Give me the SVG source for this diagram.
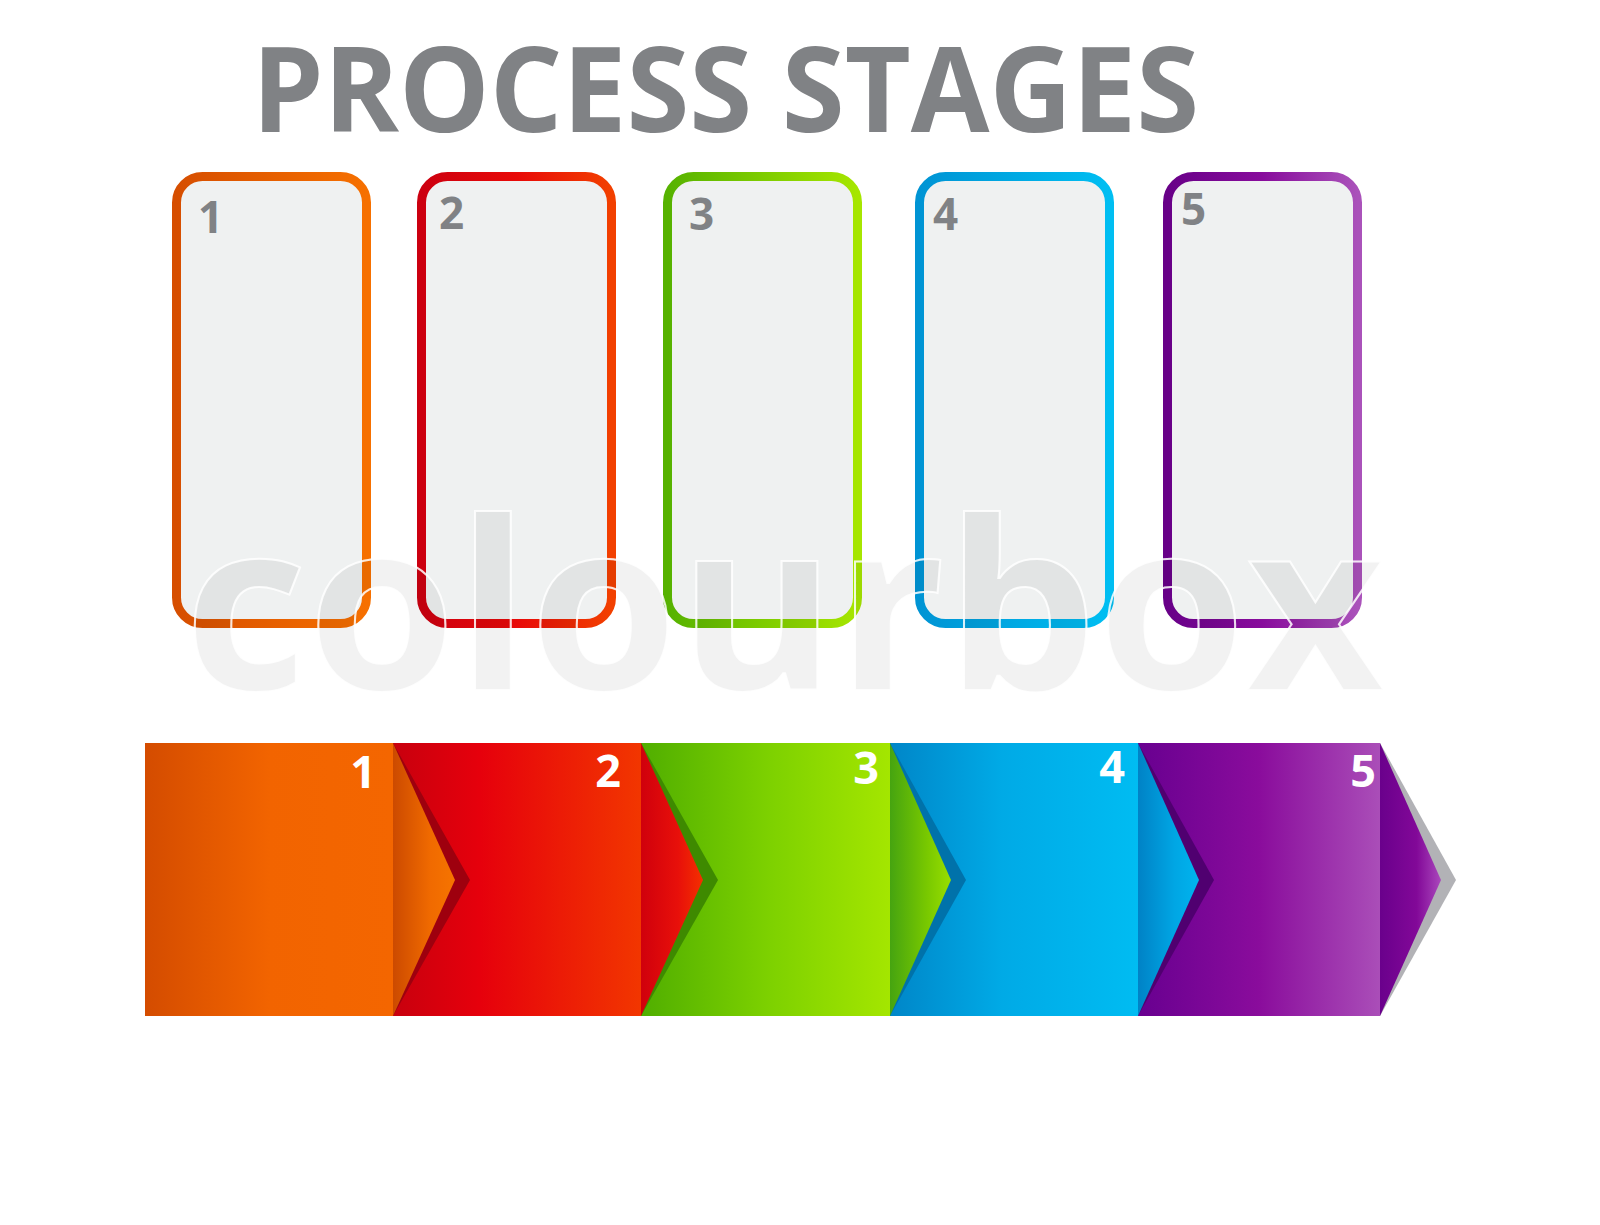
<svg xmlns="http://www.w3.org/2000/svg" width="1600" height="1225" viewBox="0 0 1600 1225">
<defs>
<style>
.title{font-family:"Open Sans","Liberation Sans",sans-serif;font-weight:700;fill:#808285}
.bnum{font-family:"Open Sans","Liberation Sans",sans-serif;font-weight:700;font-size:44px;fill:#808285}
.anum{font-family:"Open Sans","Liberation Sans",sans-serif;font-weight:700;font-size:45px;fill:#ffffff;text-anchor:end}
.box{fill:#eff1f1;stroke-width:9}
.wm{font-family:"Open Sans","Liberation Sans",sans-serif;font-weight:700;font-size:236px;fill:#000;fill-opacity:0.05;stroke:#fff;stroke-width:2;stroke-opacity:0.85}
</style>
<linearGradient id="bs1" x1="0" x2="1" y1="0" y2="0"><stop offset="0" stop-color="#d64e00"/><stop offset="1" stop-color="#f67000"/></linearGradient>
<linearGradient id="bs2" x1="0" x2="1" y1="0" y2="0"><stop offset="0" stop-color="#cc0010"/><stop offset="0.5" stop-color="#e80a08"/><stop offset="1" stop-color="#f24000"/></linearGradient>
<linearGradient id="bs3" x1="0" x2="1" y1="0" y2="0"><stop offset="0" stop-color="#56b200"/><stop offset="1" stop-color="#a6e600"/></linearGradient>
<linearGradient id="bs4" x1="0" x2="1" y1="0" y2="0"><stop offset="0" stop-color="#0094d4"/><stop offset="1" stop-color="#00bef2"/></linearGradient>
<linearGradient id="bs5" x1="0" x2="1" y1="0" y2="0"><stop offset="0" stop-color="#680088"/><stop offset="0.5" stop-color="#880c9c"/><stop offset="1" stop-color="#aa52ba"/></linearGradient>

<linearGradient id="sg1" x1="0" x2="1" y1="0" y2="0"><stop offset="0" stop-color="#d44c00"/><stop offset="0.5" stop-color="#f26400"/><stop offset="1" stop-color="#f46600"/></linearGradient>
<linearGradient id="sg2" x1="0" x2="1" y1="0" y2="0"><stop offset="0" stop-color="#c8000e"/><stop offset="0.35" stop-color="#e6000c"/><stop offset="1" stop-color="#f23600"/></linearGradient>
<linearGradient id="sg3" x1="0" x2="1" y1="0" y2="0"><stop offset="0" stop-color="#50ae00"/><stop offset="0.5" stop-color="#7cd000"/><stop offset="1" stop-color="#a4e600"/></linearGradient>
<linearGradient id="sg4" x1="0" x2="1" y1="0" y2="0"><stop offset="0" stop-color="#0086c8"/><stop offset="0.45" stop-color="#00aae6"/><stop offset="1" stop-color="#00bcf2"/></linearGradient>
<linearGradient id="sg5" x1="0" x2="1" y1="0" y2="0"><stop offset="0" stop-color="#680090"/><stop offset="0.5" stop-color="#8a0c9c"/><stop offset="1" stop-color="#aa4eb8"/></linearGradient>

<linearGradient id="cg1" x1="0" x2="1" y1="0" y2="0"><stop offset="0" stop-color="#cc4a00"/><stop offset="0.6" stop-color="#f06a00"/><stop offset="1" stop-color="#f67400"/></linearGradient>
<linearGradient id="cg2" x1="0" x2="1" y1="0" y2="0"><stop offset="0" stop-color="#d0000c"/><stop offset="0.6" stop-color="#e8100a"/><stop offset="1" stop-color="#f43000"/></linearGradient>
<linearGradient id="cg3" x1="0" x2="1" y1="0" y2="0"><stop offset="0" stop-color="#46a410"/><stop offset="0.6" stop-color="#78c800"/><stop offset="1" stop-color="#98de00"/></linearGradient>
<linearGradient id="cg4" x1="0" x2="1" y1="0" y2="0"><stop offset="0" stop-color="#0082c6"/><stop offset="0.6" stop-color="#00a6e4"/><stop offset="1" stop-color="#00b4ee"/></linearGradient>
<linearGradient id="cg5" x1="0" x2="1" y1="0" y2="0"><stop offset="0" stop-color="#6a008c"/><stop offset="0.6" stop-color="#820898"/><stop offset="1" stop-color="#aa48bc"/></linearGradient>
</defs>

<rect x="0" y="0" width="1600" height="1225" fill="#ffffff"/>

<g id="title">
<text class="title" x="252" y="132" font-size="119" textLength="947" lengthAdjust="spacingAndGlyphs">PROCESS STAGES</text>
</g>

<g id="stage-box-1">
<rect class="box" x="176.5" y="176.5" width="190" height="447" rx="26" stroke="url(#bs1)"/>
<text class="bnum" x="198" y="233">1</text>
</g>
<g id="stage-box-2">
<rect class="box" x="421.5" y="176.5" width="190" height="447" rx="26" stroke="url(#bs2)"/>
<text class="bnum" x="439" y="229">2</text>
</g>
<g id="stage-box-3">
<rect class="box" x="667.5" y="176.5" width="190" height="447" rx="26" stroke="url(#bs3)"/>
<text class="bnum" x="689" y="230">3</text>
</g>
<g id="stage-box-4">
<rect class="box" x="919.5" y="176.5" width="190" height="447" rx="26" stroke="url(#bs4)"/>
<text class="bnum" x="933" y="230">4</text>
</g>
<g id="stage-box-5">
<rect class="box" x="1167.5" y="176.5" width="190" height="447" rx="26" stroke="url(#bs5)"/>
<text class="bnum" x="1181" y="225">5</text>
</g>

<g id="stage-arrow-5">
<rect x="1138" y="743" width="242" height="273" fill="url(#sg5)"/>
<polygon points="1380,743 1456,880 1380,1016" fill="#b2b2b6"/>
<polygon points="1380,743 1441,880 1380,1016" fill="url(#cg5)"/>
<text class="anum" x="1376" y="787">5</text>
</g>
<g id="stage-arrow-4">
<rect x="890" y="743" width="248" height="273" fill="url(#sg4)"/>
<polygon points="1138,743 1214,880 1138,1016" fill="#500070"/>
<polygon points="1138,743 1199,880 1138,1016" fill="url(#cg4)"/>
<text class="anum" x="1125" y="783">4</text>
</g>
<g id="stage-arrow-3">
<rect x="641" y="743" width="249" height="273" fill="url(#sg3)"/>
<polygon points="890,743 966,880 890,1016" fill="#0072aa"/>
<polygon points="890,743 951,880 890,1016" fill="url(#cg3)"/>
<text class="anum" x="879" y="784">3</text>
</g>
<g id="stage-arrow-2">
<rect x="393" y="743" width="248" height="273" fill="url(#sg2)"/>
<polygon points="641,743 718,880 641,1016" fill="#3e8a00"/>
<polygon points="641,743 703,880 641,1016" fill="url(#cg2)"/>
<text class="anum" x="621" y="787">2</text>
</g>
<g id="stage-arrow-1">
<rect x="145" y="743" width="248" height="273" fill="url(#sg1)"/>
<polygon points="393,743 470,880 393,1016" fill="#9e000e"/>
<polygon points="393,743 455,880 393,1016" fill="url(#cg1)"/>
<text class="anum" x="376" y="788">1</text>
</g>

<text class="wm" x="184" y="690" textLength="1201" lengthAdjust="spacingAndGlyphs">colourbox</text>
</svg>
